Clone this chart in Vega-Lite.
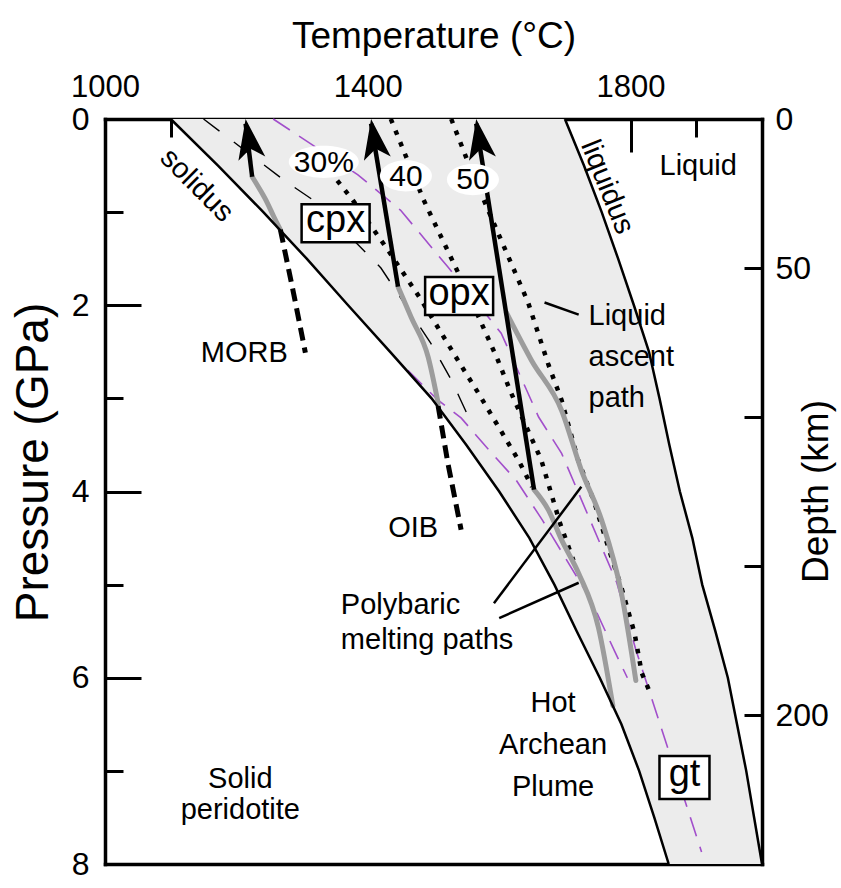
{
  "$schema": "https://vega.github.io/schema/vega-lite/v6.json",
  "width": 657,
  "height": 745,
  "autosize": {"type": "none"},
  "padding": {"left": 105, "top": 119, "right": 79, "bottom": 24},
  "background": "white",
  "config": {
    "font": "Liberation Sans",
    "view": {"stroke": null},
    "axis": {"grid": false, "labelColor": "black", "titleColor": "black", "tickColor": "black", "domainColor": "black", "titleFontWeight": "normal", "labelFontWeight": "normal", "zindex": 1}
  },
  "datasets": {
    "bounds": [
      {"P": 0, "T": 1100, "T2": 1700}, {"P": 0.5, "T": 1172, "T2": 1729}, {"P": 1, "T": 1241, "T2": 1756},
      {"P": 1.5, "T": 1307, "T2": 1781}, {"P": 2, "T": 1370, "T2": 1805}, {"P": 2.5, "T": 1434, "T2": 1828},
      {"P": 3, "T": 1497, "T2": 1844}, {"P": 3.5, "T": 1550, "T2": 1859}, {"P": 4, "T": 1600, "T2": 1875},
      {"P": 4.5, "T": 1646, "T2": 1894}, {"P": 5, "T": 1684, "T2": 1909}, {"P": 5.5, "T": 1718, "T2": 1929},
      {"P": 6, "T": 1753, "T2": 1948}, {"P": 6.5, "T": 1786, "T2": 1962}, {"P": 7, "T": 1813, "T2": 1976},
      {"P": 7.5, "T": 1836, "T2": 1988}, {"P": 8, "T": 1858, "T2": 2000}
    ],
    "cpxout": [
      {"T": 1150, "P": 0}, {"T": 1275, "P": 0.67}, {"T": 1321, "P": 0.89}, {"T": 1420, "P": 1.6},
      {"T": 1496, "P": 2.41}, {"T": 1527, "P": 2.8}, {"T": 1554, "P": 3.21}
    ],
    "purple": [
      {"id": "p1", "T": 1256, "P": 0}, {"id": "p1", "T": 1385, "P": 0.6}, {"id": "p1", "T": 1450, "P": 0.98},
      {"id": "p1", "T": 1522, "P": 1.59}, {"id": "p1", "T": 1603, "P": 2.3}, {"id": "p1", "T": 1660, "P": 3.2},
      {"id": "p1", "T": 1695, "P": 3.59}, {"id": "p1", "T": 1779, "P": 4.98}, {"id": "p1", "T": 1808, "P": 5.7},
      {"id": "p1", "T": 1908, "P": 7.87},
      {"id": "p2", "T": 1461, "P": 2.7}, {"id": "p2", "T": 1507, "P": 3.02}, {"id": "p2", "T": 1542, "P": 3.21},
      {"id": "p2", "T": 1585, "P": 3.56}, {"id": "p2", "T": 1626, "P": 3.88}, {"id": "p2", "T": 1666, "P": 4.31},
      {"id": "p2", "T": 1740, "P": 5.17}, {"id": "p2", "T": 1776, "P": 5.72}, {"id": "p2", "T": 1795, "P": 6.0}
    ],
    "dots": [
      {"id": "a", "T": 1330, "P": 0.45}, {"id": "a", "T": 1377, "P": 0.87}, {"id": "a", "T": 1430, "P": 1.4},
      {"id": "a", "T": 1481, "P": 1.94}, {"id": "a", "T": 1537, "P": 2.59}, {"id": "a", "T": 1568, "P": 2.94},
      {"id": "a", "T": 1629, "P": 3.66}, {"id": "a", "T": 1650, "P": 3.95},
      {"id": "b", "T": 1435, "P": 0}, {"id": "b", "T": 1485, "P": 0.87}, {"id": "b", "T": 1557, "P": 1.94},
      {"id": "b", "T": 1598, "P": 2.59}, {"id": "b", "T": 1618, "P": 2.94}, {"id": "b", "T": 1664, "P": 3.66},
      {"id": "b", "T": 1693, "P": 4.35}, {"id": "b", "T": 1713, "P": 4.74},
      {"id": "c", "T": 1527, "P": 0}, {"id": "c", "T": 1560, "P": 0.6}, {"id": "c", "T": 1598, "P": 1.22},
      {"id": "c", "T": 1644, "P": 1.97}, {"id": "c", "T": 1675, "P": 2.64}, {"id": "c", "T": 1695, "P": 3.02},
      {"id": "c", "T": 1720, "P": 3.66}, {"id": "c", "T": 1745, "P": 4.12}, {"id": "c", "T": 1766, "P": 4.6},
      {"id": "c", "T": 1786, "P": 5.03}, {"id": "c", "T": 1806, "P": 5.52}, {"id": "c", "T": 1817, "P": 5.95},
      {"id": "c", "T": 1832, "P": 6.2}
    ],
    "gray": [
      {"id": "g1", "T": 1267, "P": 1.19}, {"id": "g1", "T": 1257, "P": 1.05}, {"id": "g1", "T": 1247, "P": 0.9},
      {"id": "g1", "T": 1236, "P": 0.76}, {"id": "g1", "T": 1224, "P": 0.62},
      {"id": "g2", "T": 1507, "P": 3.05}, {"id": "g2", "T": 1492, "P": 2.56}, {"id": "g2", "T": 1466, "P": 2.13},
      {"id": "g2", "T": 1446, "P": 1.8},
      {"id": "g3", "T": 1653, "P": 3.98}, {"id": "g3", "T": 1675, "P": 4.2}, {"id": "g3", "T": 1695, "P": 4.52},
      {"id": "g3", "T": 1721, "P": 4.88}, {"id": "g3", "T": 1751, "P": 5.46}, {"id": "g3", "T": 1773, "P": 6.3},
      {"id": "g4", "T": 1611, "P": 2.08}, {"id": "g4", "T": 1649, "P": 2.59}, {"id": "g4", "T": 1695, "P": 3.13},
      {"id": "g4", "T": 1725, "P": 3.77}, {"id": "g4", "T": 1756, "P": 4.31}, {"id": "g4", "T": 1786, "P": 5.09},
      {"id": "g4", "T": 1808, "P": 6.03}
    ],
    "shafts": [
      {"T": 1224, "P": 0.62, "T2": 1214, "P2": 0.05},
      {"T": 1446, "P": 1.8, "T2": 1405, "P2": 0.05},
      {"T": 1653, "P": 3.98, "T2": 1565, "P2": 0.05}
    ],
    "heads": [{"T": 1214, "P": 0}, {"T": 1405, "P": 0}, {"T": 1565, "P": 0}],
    "plumes": [
      {"id": "morb", "T": 1267, "P": 1.19}, {"id": "morb", "T": 1287, "P": 1.87}, {"id": "morb", "T": 1305, "P": 2.51},
      {"id": "oib", "T": 1507, "P": 3.08}, {"id": "oib", "T": 1522, "P": 3.7}, {"id": "oib", "T": 1542, "P": 4.41}
    ],
    "leaders": [
      {"T": 1669, "P": 1.97, "T2": 1721, "P2": 2.1},
      {"T": 1592, "P": 5.2, "T2": 1725, "P2": 3.95},
      {"T": 1600, "P": 5.36, "T2": 1721, "P2": 4.98}
    ],
    "bg_wide": [{"T": 1333, "P": 0.46}],
    "bg_small": [{"T": 1458, "P": 0.61}, {"T": 1560, "P": 0.65}],
    "pct": [{"T": 1333, "P": 0.47, "label": "30%"}, {"T": 1458, "P": 0.62, "label": "40"}, {"T": 1560, "P": 0.66, "label": "50"}],
    "txt_left": [{"T": 1844, "P": 0.6, "label": "Liquid"}, {"T": 1736, "P": 2.21, "label": "Liquid\nascent\npath"}],
    "txt_poly": [{"T": 1359, "P": 5.32, "label": "Polybaric\nmelting paths"}],
    "txt_center": [{"T": 1212, "P": 2.61, "label": "MORB"}, {"T": 1469, "P": 4.49, "label": "OIB"}, {"T": 1682, "P": 6.37, "label": "Hot\nArchean\nPlume"}],
    "txt_solid": [{"T": 1206, "P": 7.18, "label": "Solid\nperidotite"}],
    "txt_solidus": [{"T": 1140, "P": 0.71, "label": "solidus"}],
    "txt_liquidus": [{"T": 1765, "P": 0.73, "label": "liquidus"}],
    "box_wide": [{"T": 1351, "P": 1.12}, {"T": 1539, "P": 1.9}],
    "box_gt": [{"T": 1882, "P": 7.07}],
    "boxtext": [{"T": 1351, "P": 1.12, "label": "cpx"}, {"T": 1539, "P": 1.9, "label": "opx"}, {"T": 1882, "P": 7.07, "label": "gt"}],
    "depth": [{"D": 0}, {"D": 250}]
  },
  "resolve": {"scale": {"y": "independent"}, "axis": {"y": "independent"}},
  "layer": [
    {
      "encoding": {
        "x": {"field": "T", "type": "quantitative", "scale": {"domain": [1000, 2000], "nice": false, "zero": false}, "axis": null},
        "y": {"field": "P", "type": "quantitative", "scale": {"domain": [0, 8], "nice": false, "zero": false, "reverse": true}, "axis": null}
      },
      "resolve": {"axis": {"x": "independent", "y": "independent"}},
      "layer": [
        {"data": {"name": "bounds"}, "mark": {"type": "area", "orient": "horizontal", "color": "#ececec"}, "encoding": {"x2": {"field": "T2"}}},
        {"data": {"name": "cpxout"}, "mark": {"type": "line", "color": "black", "strokeWidth": 1.4, "strokeDash": [20, 18]}, "encoding": {"order": {"field": "P", "type": "quantitative"}}},
        {"data": {"name": "purple"}, "mark": {"type": "line", "color": "#a24fcb", "strokeWidth": 1.6, "strokeDash": [20, 11]}, "encoding": {"detail": {"field": "id"}, "order": {"field": "P", "type": "quantitative"}}},
        {"data": {"name": "dots"}, "mark": {"type": "line", "color": "black", "strokeWidth": 4.5, "strokeDash": [4.5, 8]}, "encoding": {"detail": {"field": "id"}, "order": {"field": "P", "type": "quantitative"}}},
        {"data": {"name": "gray"}, "mark": {"type": "line", "color": "#9c9c9c", "strokeWidth": 5, "strokeCap": "round", "interpolate": "monotone", "orient": "horizontal"}, "encoding": {"detail": {"field": "id"}, "order": {"field": "P", "type": "quantitative"}}},
        {"data": {"name": "shafts"}, "mark": {"type": "rule", "color": "black", "strokeWidth": 4.5}, "encoding": {"x2": {"field": "T2"}, "y2": {"field": "P2"}}},
        {"data": {"name": "heads"}, "mark": {"type": "point", "shape": "M0,0 L0.68,2 L0,1.5 L-0.68,2 Z", "size": 1600, "angle": -9, "filled": true, "color": "black", "opacity": 1}},
        {"data": {"name": "plumes"}, "mark": {"type": "line", "color": "black", "strokeWidth": 5, "strokeDash": [13, 7]}, "encoding": {"detail": {"field": "id"}, "order": {"field": "P", "type": "quantitative"}}},
        {"data": {"name": "bounds"}, "mark": {"type": "line", "color": "black", "strokeWidth": 2.5}, "encoding": {"order": {"field": "P", "type": "quantitative"}}},
        {"data": {"name": "bounds"}, "mark": {"type": "line", "color": "black", "strokeWidth": 2.5}, "encoding": {"x": {"field": "T2", "type": "quantitative", "scale": {"domain": [1000, 2000], "nice": false, "zero": false}, "axis": null}, "order": {"field": "P", "type": "quantitative"}}},
        {"data": {"name": "leaders"}, "mark": {"type": "rule", "color": "black", "strokeWidth": 2.5}, "encoding": {"x2": {"field": "T2"}, "y2": {"field": "P2"}}},
        {"data": {"name": "bg_wide"}, "mark": {"type": "point", "shape": "M-1,0 C-1,-0.26 -0.55,-0.46 0,-0.46 C0.55,-0.46 1,-0.26 1,0 C1,0.26 0.55,0.46 0,0.46 C-0.55,0.46 -1,0.26 -1,0 Z", "size": 4900, "filled": true, "color": "white", "opacity": 1}},
        {"data": {"name": "bg_small"}, "mark": {"type": "point", "shape": "M-1,0 C-1,-0.33 -0.55,-0.6 0,-0.6 C0.55,-0.6 1,-0.33 1,0 C1,0.33 0.55,0.6 0,0.6 C-0.55,0.6 -1,0.33 -1,0 Z", "size": 2704, "filled": true, "color": "white", "opacity": 1}},
        {"data": {"name": "pct"}, "mark": {"type": "text", "fontSize": 30, "align": "center", "baseline": "middle", "color": "black"}, "encoding": {"text": {"field": "label"}}},
        {"data": {"name": "txt_solidus"}, "mark": {"type": "text", "fontSize": 29, "align": "center", "baseline": "middle", "angle": 45, "color": "black"}, "encoding": {"text": {"field": "label"}}},
        {"data": {"name": "txt_liquidus"}, "mark": {"type": "text", "fontSize": 29, "align": "center", "baseline": "middle", "angle": 68, "color": "black"}, "encoding": {"text": {"field": "label"}}},
        {"data": {"name": "txt_left"}, "mark": {"type": "text", "fontSize": 29, "align": "left", "baseline": "alphabetic", "lineHeight": 41, "lineBreak": "\n", "color": "black"}, "encoding": {"text": {"field": "label"}}},
        {"data": {"name": "txt_poly"}, "mark": {"type": "text", "fontSize": 29, "align": "left", "baseline": "alphabetic", "lineHeight": 35, "lineBreak": "\n", "color": "black"}, "encoding": {"text": {"field": "label"}}},
        {"data": {"name": "txt_center"}, "mark": {"type": "text", "fontSize": 29, "align": "center", "baseline": "alphabetic", "lineHeight": 42, "lineBreak": "\n", "color": "black"}, "encoding": {"text": {"field": "label"}}},
        {"data": {"name": "txt_solid"}, "mark": {"type": "text", "fontSize": 29, "align": "center", "baseline": "alphabetic", "lineHeight": 31, "lineBreak": "\n", "color": "black"}, "encoding": {"text": {"field": "label"}}},
        {"data": {"name": "box_wide"}, "mark": {"type": "point", "shape": "M-1,-0.56 L1,-0.56 L1,0.56 L-1,0.56 Z", "size": 4624, "filled": true, "fill": "white", "stroke": "black", "strokeWidth": 2.5, "opacity": 1}},
        {"data": {"name": "box_gt"}, "mark": {"type": "point", "shape": "M-1,-0.86 L1,-0.86 L1,0.86 L-1,0.86 Z", "size": 2500, "filled": true, "fill": "white", "stroke": "black", "strokeWidth": 2.5, "opacity": 1}},
        {"data": {"name": "boxtext"}, "mark": {"type": "text", "fontSize": 38, "align": "center", "baseline": "middle", "dy": -2, "color": "black"}, "encoding": {"text": {"field": "label"}}},
        {
          "data": {"name": "bounds"},
          "mark": {"type": "point", "opacity": 0},
          "encoding": {
            "x": {"field": "T", "type": "quantitative", "scale": {"domain": [1000, 2000], "nice": false, "zero": false},
              "axis": {"orient": "top", "values": [1000, 1400, 1800], "format": "d", "ticks": false, "domain": true, "domainWidth": 3.5, "domainCap": "square", "labelFontSize": 31, "labelPadding": 23, "labelBaseline": "alphabetic", "labelFlush": false, "labelOverlap": false, "title": "Temperature (°C)", "titleFontSize": 37, "titleY": -72, "titleBaseline": "alphabetic"}},
            "y": {"field": "P", "type": "quantitative", "scale": {"domain": [0, 8], "nice": false, "zero": false, "reverse": true},
              "axis": {"orient": "left", "values": [0, 2, 4, 6, 8], "format": "d", "ticks": false, "domain": true, "domainWidth": 3.5, "domainCap": "square", "labelFontSize": 32, "labelPadding": 16, "labelOverlap": false, "labelFlush": false, "title": "Pressure (GPa)", "titleFontSize": 46, "titleAngle": 270, "titleX": -58, "titleY": 343, "titleAlign": "center", "titleBaseline": "alphabetic"}}
          }
        },
        {
          "data": {"name": "bounds"},
          "mark": {"type": "point", "opacity": 0},
          "encoding": {
            "x": {"field": "T", "type": "quantitative", "scale": {"domain": [1000, 2000], "nice": false, "zero": false},
              "axis": {"orient": "bottom", "offset": -745, "values": [1200, 1400, 1600, 1800], "labels": false, "domain": false, "tickSize": 33, "tickWidth": 3, "title": null}},
            "y": {"field": "P", "type": "quantitative", "scale": {"domain": [0, 8], "nice": false, "zero": false, "reverse": true},
              "axis": {"orient": "right", "offset": -657, "values": [2, 4, 6], "labels": false, "domain": false, "tickSize": 36, "tickWidth": 3, "title": null}}
          }
        },
        {
          "data": {"name": "bounds"},
          "mark": {"type": "point", "opacity": 0},
          "encoding": {
            "x": {"field": "T", "type": "quantitative", "scale": {"domain": [1000, 2000], "nice": false, "zero": false},
              "axis": {"orient": "bottom", "offset": -745, "values": [1100, 1300, 1500, 1700, 1900], "labels": false, "domain": false, "tickSize": 18, "tickWidth": 3, "title": null}},
            "y": {"field": "P", "type": "quantitative", "scale": {"domain": [0, 8], "nice": false, "zero": false, "reverse": true},
              "axis": {"orient": "right", "offset": -657, "values": [1, 3, 5, 7], "labels": false, "domain": false, "tickSize": 18, "tickWidth": 3, "title": null}}
          }
        },
        {
          "data": {"name": "bounds"},
          "mark": {"type": "point", "opacity": 0},
          "encoding": {
            "x": {"field": "T", "type": "quantitative", "scale": {"domain": [1000, 2000], "nice": false, "zero": false},
              "axis": {"orient": "bottom", "labels": false, "ticks": false, "domain": true, "domainWidth": 3.5, "domainCap": "square", "title": null}}
          }
        }
      ]
    },
    {
      "data": {"name": "depth"},
      "encoding": {
        "y": {"field": "D", "type": "quantitative", "scale": {"domain": [0, 250], "nice": false, "zero": false, "reverse": true}, "axis": null}
      },
      "resolve": {"axis": {"y": "independent"}},
      "layer": [
        {
          "mark": {"type": "point", "opacity": 0},
          "encoding": {
            "y": {"field": "D", "type": "quantitative", "scale": {"domain": [0, 250], "nice": false, "zero": false, "reverse": true},
              "axis": {"orient": "right", "values": [0, 50, 200], "format": "d", "ticks": false, "domain": true, "domainWidth": 3.5, "domainCap": "square", "labelFontSize": 32, "labelPadding": 13, "labelOverlap": false, "labelFlush": false, "title": "Depth (km)", "titleFontSize": 37, "titleAngle": 270, "titleX": 65, "titleY": 372, "titleAlign": "center", "titleBaseline": "alphabetic"}}
          }
        },
        {
          "mark": {"type": "point", "opacity": 0},
          "encoding": {
            "y": {"field": "D", "type": "quantitative", "scale": {"domain": [0, 250], "nice": false, "zero": false, "reverse": true},
              "axis": {"orient": "left", "offset": -657, "values": [50, 100, 150, 200], "labels": false, "domain": false, "tickSize": 18, "tickWidth": 3, "title": null}}
          }
        }
      ]
    }
  ]
}
